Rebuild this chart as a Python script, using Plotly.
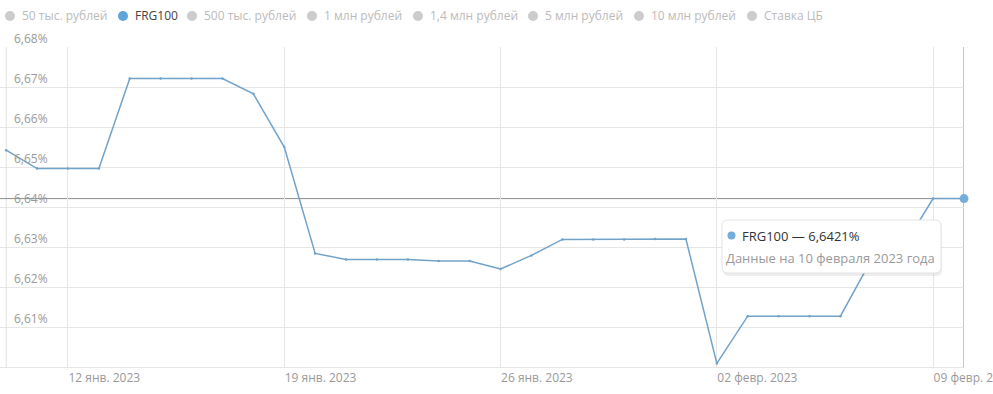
import plotly.graph_objects as go

# ---------------- data ----------------
dates = [
    "2023-01-10", "2023-01-11", "2023-01-12", "2023-01-13", "2023-01-14", "2023-01-15",
    "2023-01-16", "2023-01-17", "2023-01-18", "2023-01-19", "2023-01-20", "2023-01-21",
    "2023-01-22", "2023-01-23", "2023-01-24", "2023-01-25", "2023-01-26", "2023-01-27",
    "2023-01-28", "2023-01-29", "2023-01-30", "2023-01-31", "2023-02-01", "2023-02-02",
    "2023-02-03", "2023-02-04", "2023-02-05", "2023-02-06", "2023-02-07", "2023-02-08",
    "2023-02-09", "2023-02-10",
]
frg100 = [
    6.6542, 6.6496, 6.6496, 6.6496, 6.6721, 6.6721,
    6.6721, 6.6721, 6.6683, 6.6550, 6.6284, 6.6269,
    6.6269, 6.6269, 6.6265, 6.6265, 6.6245, 6.6279,
    6.6319, 6.6319, 6.6319, 6.6320, 6.6320, 6.6009,
    6.6127, 6.6127, 6.6127, 6.6127, 6.6268, 6.6295,
    6.6421, 6.6421,
]
series_name = "FRG100"
legend_labels = ["50 тыс. рублей", "FRG100", "500 тыс. рублей", "1 млн рублей",
                 "1,4 млн рублей", "5 млн рублей", "10 млн рублей", "Ставка ЦБ"]
legend_active = [False, True, False, False, False, False, False, False]
x_tickvals = ["2023-01-12", "2023-01-19", "2023-01-26", "2023-02-02", "2023-02-09"]
x_ticktext = ["12 янв. 2023", "19 янв. 2023", "26 янв. 2023", "02 февр. 2023", "09 февр. 2023"]
y_tickvals = [6.61, 6.62, 6.63, 6.64, 6.65, 6.66, 6.67, 6.68]
y_ticktext = ["6,61%", "6,62%", "6,63%", "6,64%", "6,65%", "6,66%", "6,67%", "6,68%"]
tooltip_date_text = "Данные на 10 февраля 2023 года"

# ---------------- layout geometry ----------------
W, H = 993, 394
ML, MR, MT, MB = 0, 29, 47, 27
PW, PH = W - ML - MR, H - MT - MB

def px(x):
    return (x - ML) / PW

def py(y):
    return 1 - (y - MT) / PH

LINE_COLOR = "#70a2ca"
POINT_COLOR = "#74acda"
GRID = "#e6e6e6"
FONT = "Open Sans"

fig = go.Figure()
fig.add_trace(go.Scatter(
    x=dates, y=frg100, mode="lines+markers", name=series_name,
    line=dict(color=LINE_COLOR, width=1.5),
    marker=dict(size=2.5, color=LINE_COLOR),
    showlegend=False, hoverinfo="skip",
))
# hovered point
fig.add_trace(go.Scatter(
    x=[dates[-1]], y=[frg100[-1]], mode="markers",
    marker=dict(size=9, color=POINT_COLOR),
    showlegend=False, hoverinfo="skip", cliponaxis=False,
))

shapes = []
shapes.append(dict(type="line", xref="x", yref="paper", x0=dates[0], x1=dates[0], y0=0, y1=1,
                   line=dict(color="#e0e0e0", width=1), layer="between"))
shapes.append(dict(type="line", xref="paper", yref="y", x0=0, x1=1, y0=frg100[-1], y1=frg100[-1],
                   line=dict(color="#8c8c8c", width=1), layer="between"))
shapes.append(dict(type="line", xref="x", yref="paper", x0=dates[-1], x1=dates[-1], y0=0, y1=1,
                   line=dict(color="#8c8c8c", width=1), layer="between"))

def rounded(x0, y0, x1, y1, r):
    pts = [
        ("M", [(x0 + r, y0)]), ("L", [(x1 - r, y0)]), ("Q", [(x1, y0), (x1, y0 + r)]),
        ("L", [(x1, y1 - r)]), ("Q", [(x1, y1), (x1 - r, y1)]), ("L", [(x0 + r, y1)]),
        ("Q", [(x0, y1), (x0, y1 - r)]), ("L", [(x0, y0 + r)]), ("Q", [(x0, y0), (x0 + r, y0)]),
    ]
    s = ""
    for cmd, ps in pts:
        s += cmd + " " + " ".join(f"{px(a):.5f},{py(b):.5f}" for a, b in ps) + " "
    return s + "Z"

tx0, ty0, tx1, ty1 = 722, 220, 941, 273
shapes.append(dict(type="path", xref="paper", yref="paper", path=rounded(tx0 + 1, ty0 + 2, tx1 + 1, ty1 + 3, 6),
                   fillcolor="rgba(0,0,0,0.07)", line=dict(width=0), layer="above"))
shapes.append(dict(type="path", xref="paper", yref="paper", path=rounded(tx0, ty0, tx1, ty1, 6),
                   fillcolor="white", line=dict(color="#e4e4e4", width=1), layer="above"))
shapes.append(dict(type="circle", xref="paper", yref="paper", xsizemode="pixel", ysizemode="pixel",
                   xanchor=px(731.5), yanchor=py(235.5), x0=-4, x1=4, y0=-4, y1=4,
                   fillcolor=POINT_COLOR, line=dict(width=0), layer="above"))

annotations = []
value_str = f"{frg100[-1]:.4f}".replace(".", ",")
annotations.append(dict(xref="paper", yref="paper", x=px(740), y=py(235.5), xanchor="left", yanchor="middle",
                        text=f"{series_name} — {value_str}%", showarrow=False,
                        font=dict(family=FONT, size=13, color="#333333")))
annotations.append(dict(xref="paper", yref="paper", x=px(724), y=py(258), xanchor="left", yanchor="middle",
                        text=tooltip_date_text, showarrow=False,
                        font=dict(family=FONT, size=13, color="#9a9a9a")))

legend_x = [10, 123, 192, 312, 418, 533, 639, 752]
for lab, act, cx in zip(legend_labels, legend_active, legend_x):
    shapes.append(dict(type="circle", xref="paper", yref="paper", xsizemode="pixel", ysizemode="pixel",
                       xanchor=px(cx), yanchor=py(16), x0=-5, x1=5, y0=-5, y1=5,
                       fillcolor="#5ea5dc" if act else "#cccccc", line=dict(width=0)))
    annotations.append(dict(xref="paper", yref="paper", x=px(cx + 10), y=py(16), xanchor="left",
                            yanchor="middle", text=lab, showarrow=False,
                            font=dict(family=FONT, size=12, color="#444444" if act else "#bbbbbb")))

fig.update_layout(
    width=W, height=H,
    margin=dict(l=ML, r=MR, t=MT, b=MB, pad=0, autoexpand=False),
    paper_bgcolor="white", plot_bgcolor="white",
    font=dict(family=FONT, size=12, color="#999999"),
    shapes=shapes, annotations=annotations,
    showlegend=False,
    xaxis=dict(
        type="date", range=["2023-01-09 19:12", "2023-02-10 00:00"],
        tickvals=x_tickvals, ticktext=x_ticktext,
        ticklabelposition="outside right", ticklabeloverflow="allow",
        automargin=False,
        showgrid=True, gridcolor=GRID, gridwidth=1,
        showline=True, linecolor=GRID, linewidth=1,
        ticks="", zeroline=False,
        tickfont=dict(family=FONT, size=12, color="#999999"),
    ),
    yaxis=dict(
        range=[6.60, 6.68], tickvals=y_tickvals, ticktext=y_ticktext,
        ticklabelposition="inside top", ticklabelstandoff=11, ticklabeloverflow="allow",
        automargin=False,
        showgrid=True, gridcolor=GRID, gridwidth=1,
        zeroline=False, showline=False, ticks="",
        tickfont=dict(family=FONT, size=12, color="#999999"),
    ),
)

fig.write_html("out.html")
